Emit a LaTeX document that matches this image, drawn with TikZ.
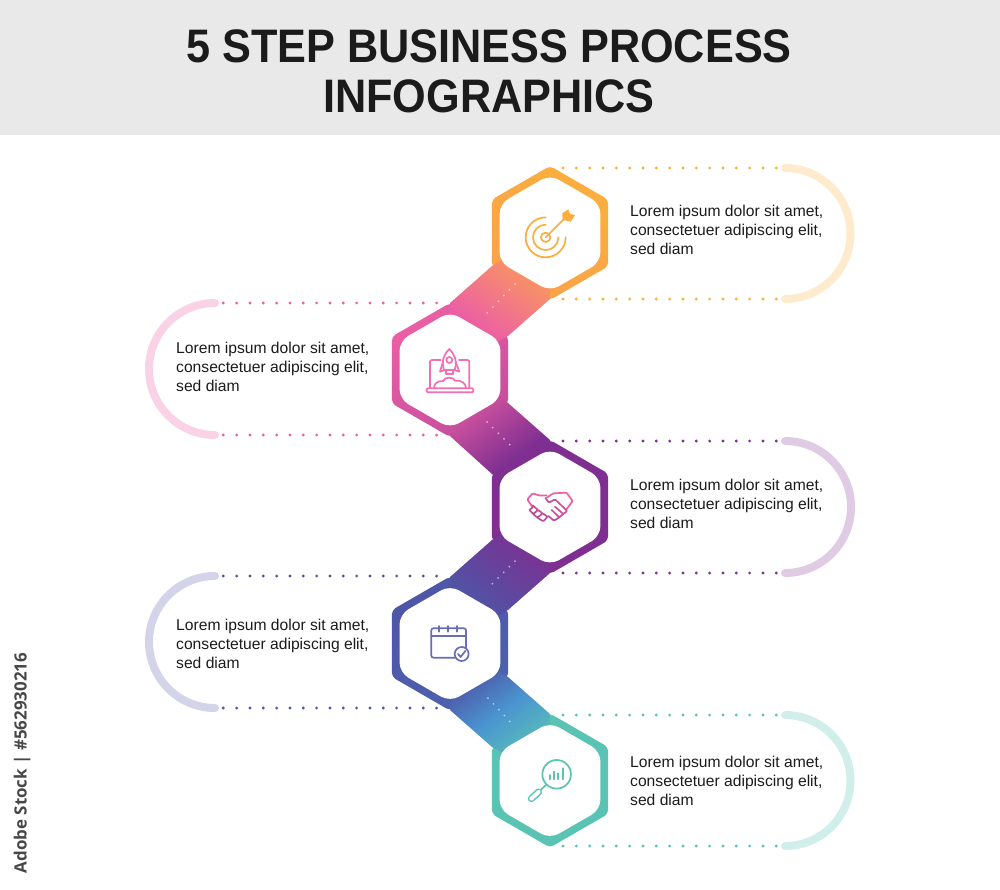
\documentclass[tikz,border=0pt]{standalone}
\usepackage{fontspec}
\setmainfont{Liberation Sans}
\newfontfamily\titlefont[FakeStretch=0.92]{Liberation Sans}
\newfontfamily\stockfont{Open Sans}
\usetikzlibrary{shapes.geometric}
\definecolor{titlegrey}{HTML}{E9E9E9}
\definecolor{inkblack}{HTML}{1B1B1B}
\definecolor{corange}{HTML}{FBAE3C}
\definecolor{csalmon}{HTML}{FA9A5C}
\definecolor{cpink}{HTML}{EC5FA4}
\definecolor{crocket}{HTML}{F46FB2}
\definecolor{cpurple}{HTML}{7E2F91}
\definecolor{cindigo}{HTML}{4E55A6}
\definecolor{cblue}{HTML}{4A94D0}
\definecolor{cteal}{HTML}{5AC4B4}
\pgfdeclarehorizontalshading{bandone}{100bp}{color(0bp)=(csalmon); color(42bp)=(csalmon); color(56bp)=(cpink); color(100bp)=(cpink)}
\pgfdeclarehorizontalshading{bandtwo}{100bp}{color(0bp)=(cpink); color(39bp)=(cpink); color(54bp)=(cpurple); color(100bp)=(cpurple)}
\pgfdeclarehorizontalshading{bandthree}{100bp}{color(0bp)=(cpurple); color(42bp)=(cpurple); color(57bp)=(cindigo); color(100bp)=(cindigo)}
\pgfdeclarehorizontalshading{bandfour}{100bp}{color(0bp)=(cindigo); color(42bp)=(cindigo); color(50bp)=(cblue); color(59bp)=(cteal); color(100bp)=(cteal)}
\tikzset{
  hexout/.style={regular polygon, regular polygon sides=6, shape border rotate=30, minimum size=134pt, inner sep=0pt, rounded corners=4pt},
  hexin/.style={regular polygon, regular polygon sides=6, shape border rotate=30, minimum size=116.5pt, inner sep=0pt, rounded corners=10pt, fill=white},
  lorem/.style={anchor=west, align=left, inner sep=0pt, text=inkblack, font=\fontsize{15.65}{18.9}\selectfont},
  dotline/.style={line width=3.2pt, line cap=round, dash pattern=on 0pt off 13.33pt},
  banddots/.style={line width=2pt, line cap=round, dash pattern=on 0pt off 8pt, white, opacity=.6},
  halfring/.style={line width=8pt, line cap=round},
  icon/.style={line width=1.7pt, line cap=round, line join=round},
}
\begin{document}
\begin{tikzpicture}[x=1pt,y=-1pt]
\useasboundingbox (0,0) rectangle (1000,889);
\fill [titlegrey] (0,0) rectangle (1000,135);
\node [align=center, text=inkblack, font=\fontsize{47}{50}\titlefont\bfseries] (title) at (489,71) {5 STEP BUSINESS PROCESS\\INFOGRAPHICS};
\node [rotate=90, text=black!72, font=\fontsize{16.9}{20}\stockfont\bfseries] (stock) at (22,763) {Adobe Stock | \#562930216};

\coordinate (h1) at (550,233);
\coordinate (h2) at (450,370);
\coordinate (h3) at (550,507);
\coordinate (h4) at (450,643.5);
\coordinate (h5) at (550,780.5);

\node [hexout, shade, top color=corange, bottom color=corange!85!cpink, shading angle=-35] (o1) at (h1) {};
\node [hexout, shade, top color=cpink, bottom color=cpink!65!cpurple, shading angle=35] (o2) at (h2) {};
\node [hexout, fill=cpurple] (o3) at (h3) {};
\node [hexout, shade, top color=cindigo, bottom color=cindigo!80!cblue, shading angle=35] (o4) at (h4) {};
\node [hexout, fill=cteal] (o5) at (h5) {};

\coordinate (c1a) at (492,266);
\coordinate (c1b) at (450,303);
\coordinate (c1c) at (508,336);
\coordinate (c1d) at (550,299);
\coordinate (c2a) at (450,436);
\coordinate (c2b) at (492,474);
\coordinate (c2c) at (550,440);
\coordinate (c2d) at (508,403);
\coordinate (c3a) at (492,540);
\coordinate (c3b) at (450,577);
\coordinate (c3c) at (508,610);
\coordinate (c3d) at (550,573);
\coordinate (c4a) at (450,710);
\coordinate (c4b) at (492,747);
\coordinate (c4c) at (550,714);
\coordinate (c4d) at (508,677);

\begin{scope}
\clip (h1) -- (c1a) -- (c1b) -- (h2) -- (c1c) -- (c1d) -- cycle;
\shade [shading=bandone, shading angle=233.9] (350,150) rectangle (650,450);
\end{scope}
\begin{scope}
\clip (h2) -- (c2a) -- (c2b) -- (h3) -- (c2c) -- (c2d) -- cycle;
\shade [shading=bandtwo, shading angle=-53.9] (350,290) rectangle (650,590);
\end{scope}
\begin{scope}
\clip (h3) -- (c3a) -- (c3b) -- (h4) -- (c3c) -- (c3d) -- cycle;
\shade [shading=bandthree, shading angle=233.9] (350,425) rectangle (650,725);
\end{scope}
\begin{scope}
\clip (h4) -- (c4a) -- (c4b) -- (h5) -- (c4c) -- (c4d) -- cycle;
\shade [shading=bandfour, shading angle=-53.9] (350,562) rectangle (650,862);
\end{scope}

\node [hexin] (i1) at (h1) {};
\node [hexin] (i2) at (h2) {};
\node [hexin] (i3) at (h3) {};
\node [hexin] (i4) at (h4) {};
\node [hexin] (i5) at (h5) {};

\coordinate (s1) at (515,284);
\coordinate (e1) at (487,313);
\coordinate (s2) at (487,422);
\coordinate (e2) at (515,450);
\coordinate (s3) at (515,561);
\coordinate (e3) at (487,589);
\coordinate (s4) at (488,698);
\coordinate (e4) at (515,727);
\draw [banddots] (s1) -- (e1);
\draw [banddots] (s2) -- (e2);
\draw [banddots] (s3) -- (e3);
\draw [banddots] (s4) -- (e4);

\coordinate (d1t) at (563,168);
\coordinate (d1b) at (563,299);
\coordinate (a1t) at (785,168);
\coordinate (a1b) at (785,299);
\coordinate (d2t) at (436.6,303);
\coordinate (d2b) at (436.6,435);
\coordinate (a2t) at (215,303);
\coordinate (a2b) at (215,435);
\coordinate (d3t) at (563,441);
\coordinate (d3b) at (563,573);
\coordinate (a3t) at (785,441);
\coordinate (a3b) at (785,573);
\coordinate (d4t) at (436.6,576);
\coordinate (d4b) at (436.6,708);
\coordinate (a4t) at (215,576);
\coordinate (a4b) at (215,708);
\coordinate (d5t) at (563,715);
\coordinate (d5b) at (563,846);
\coordinate (a5t) at (785,715);
\coordinate (a5b) at (785,846);

\draw [dotline, corange] (d1t) -- (a1t);
\draw [dotline, corange] (d1b) -- (a1b);
\draw [dotline, cpink] (d2t) -- (a2t);
\draw [dotline, cpink] (d2b) -- (a2b);
\draw [dotline, cpurple] (d3t) -- (a3t);
\draw [dotline, cpurple] (d3b) -- (a3b);
\draw [dotline, cindigo] (d4t) -- (a4t);
\draw [dotline, cindigo] (d4b) -- (a4b);
\draw [dotline, cteal] (d5t) -- (a5t);
\draw [dotline, cteal] (d5b) -- (a5b);

\draw [halfring, corange!25] (a1t) arc[start angle=90, end angle=-90, radius=65.5pt];
\draw [halfring, cpink!28] (a2t) arc[start angle=90, end angle=270, radius=66pt];
\draw [halfring, cpurple!25] (a3t) arc[start angle=90, end angle=-90, radius=66pt];
\draw [halfring, cindigo!25] (a4t) arc[start angle=90, end angle=270, radius=66pt];
\draw [halfring, cteal!28] (a5t) arc[start angle=90, end angle=-90, radius=65.5pt];

\node [lorem] (t1) at (630,230) {Lorem ipsum dolor sit amet,\\consectetuer adipiscing elit,\\sed diam};
\node [lorem] (t2) at (176,367) {Lorem ipsum dolor sit amet,\\consectetuer adipiscing elit,\\sed diam};
\node [lorem] (t3) at (630,504) {Lorem ipsum dolor sit amet,\\consectetuer adipiscing elit,\\sed diam};
\node [lorem] (t4) at (176,644) {Lorem ipsum dolor sit amet,\\consectetuer adipiscing elit,\\sed diam};
\node [lorem] (t5) at (630,781) {Lorem ipsum dolor sit amet,\\consectetuer adipiscing elit,\\sed diam};

\begin{scope}[shift={(380,150)}, x=0.3333pt, y=-0.3333pt, icon, corange]
\draw (497,262) circle[radius=4.7pt];
\draw (497,224) arc[start angle=90, end angle=360, radius=12.7pt];
\draw (497,202) arc[start angle=90, end angle=360, radius=20pt];
\draw (497,262) -- (552,207);
\fill (548,210) -- (547,190) -- (565,178) -- (570,192) -- (585,195) -- (572,215) -- cycle;
\end{scope}

\begin{scope}[shift={(380,150)}, x=0.3333pt, y=-0.3333pt, icon, crocket]
\draw [rounded corners=1pt] (140,715) rectangle (280,727);
\draw [rounded corners=2pt] (150,715) -- (150,630) -- (182,630);
\draw [rounded corners=2pt] (237,630) -- (268,630) -- (268,715);
\draw (192,660) .. controls (182,630) and (195,610) .. (208,597) .. controls (221,610) and (234,630) .. (224,660) -- cycle;
\draw (208,630) circle[radius=3pt];
\draw (189,636) -- (180,665) -- (195,660);
\draw (227,636) -- (238,665) -- (222,660);
\draw (198,660) -- (198,672) -- (218,672) -- (218,660);
\draw (162,715) .. controls (160,700) and (175,692) .. (190,693) .. controls (192,680) and (222,680) .. (225,692) .. controls (245,690) and (258,700) .. (258,715);
\end{scope}

\begin{scope}[shift={(380,430)}, x=0.3333pt, y=-0.3333pt, icon, rounded corners=1pt]
\draw [cpink] (458,232) -- (442,208) -- (458,190) -- (480,197) -- (500,196);
\draw [cpink] (497,205) -- (520,190) -- (560,188) -- (578,213) -- (558,240);
\draw [cpink!70!cpurple] (497,205) -- (507,218) -- (525,208) -- (562,243) -- (550,252) -- (525,230);
\draw [cpink!70!cpurple] (550,252) -- (538,262) -- (515,240);
\draw [cpink!60!cpurple] (538,262) -- (522,272) -- (505,258);
\draw [cpink!60!cpurple] (458,232) -- (448,240) -- (460,252) -- (474,240) -- (458,226);
\draw [cpink!60!cpurple] (460,252) -- (472,263) -- (488,250) -- (474,240);
\draw [cpink!60!cpurple] (472,263) -- (490,274) -- (503,260) -- (488,250);
\end{scope}

\begin{scope}[shift={(380,430)}, x=0.3333pt, y=-0.3333pt, icon, cindigo!85!white]
\draw [rounded corners=2pt] (225,683) -- (154,683) -- (154,595) -- (258,595) -- (258,655);
\draw (154,617) -- (258,617);
\draw (178,588) -- (178,605);
\draw (205,588) -- (205,605);
\draw (232,588) -- (232,605);
\draw [fill=white] (245,672) circle[radius=7pt];
\draw (234,672) -- (242,681) -- (256,663);
\end{scope}

\begin{scope}[shift={(380,430)}, x=0.3333pt, y=-0.3333pt, icon, cteal]
\draw (530,1033) circle[radius=14.3pt];
\draw (510,1048) -- (510,1035);
\draw (522,1048) -- (522,1025);
\draw (535,1048) -- (535,1030);
\draw (548,1048) -- (548,1015);
\draw (499,1064) -- (484,1078);
\draw [line width=7pt] (476,1086) -- (454,1106);
\draw [line width=4pt, white] (476,1086) -- (454,1106);
\end{scope}
\end{tikzpicture}
\end{document}
